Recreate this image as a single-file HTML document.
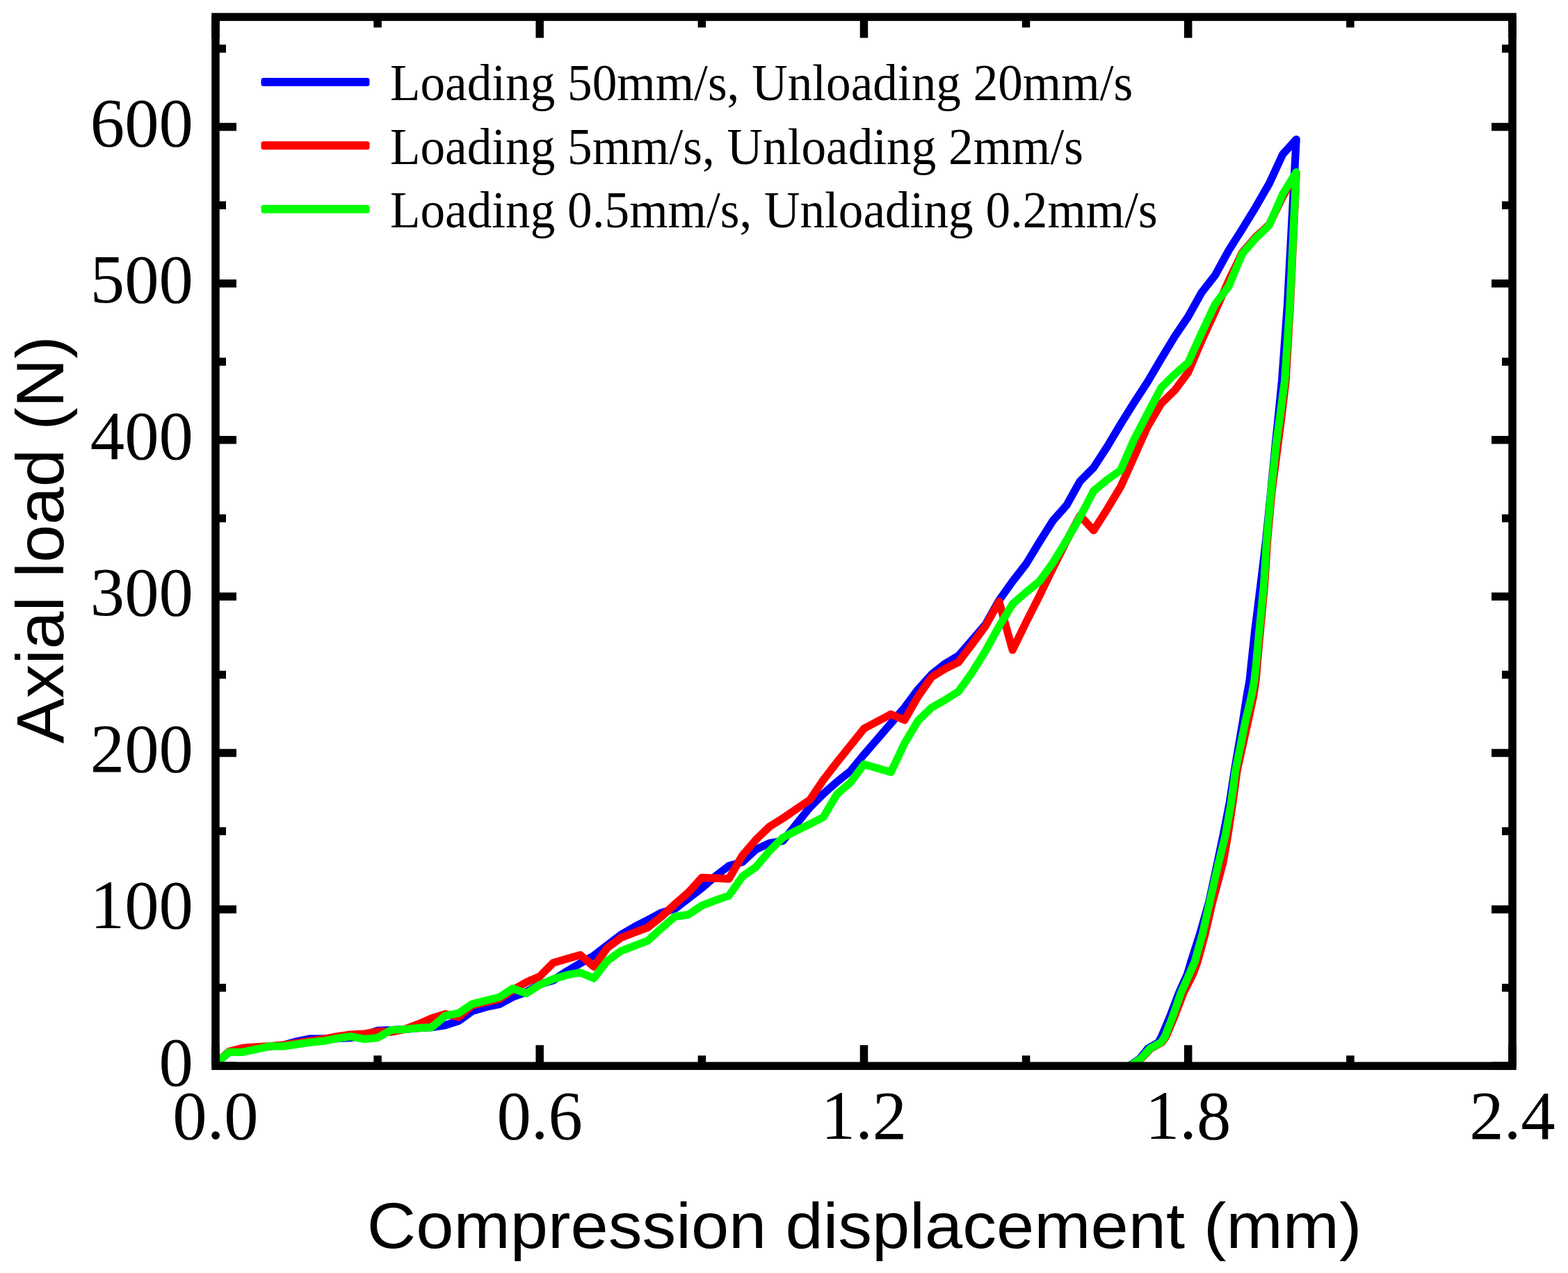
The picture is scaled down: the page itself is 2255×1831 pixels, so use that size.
<!DOCTYPE html>
<html lang="en"><head><meta charset="utf-8"><title>Axial load vs compression displacement</title>
<style>html,body{margin:0;padding:0;background:#fff;}body{width:2255px;height:1831px;overflow:hidden;}svg{display:block;}text{fill:#000;}.ser{font-family:"Liberation Serif","Times New Roman",serif;}.san{font-family:"Liberation Sans",Arial,sans-serif;}</style></head><body>
<svg width="2255" height="1831" viewBox="0 0 2255 1831">
<rect x="0" y="0" width="2255" height="1831" fill="#fff"/>
<defs><clipPath id="pc"><rect x="310.0" y="24.4" width="1865.0" height="1508.8"/></clipPath></defs>
<g clip-path="url(#pc)">
<polyline points="310.0,1530.1 329.4,1513.3 348.9,1512.3 368.3,1508.6 387.7,1504.9 407.1,1503.5 426.6,1498.0 446.0,1494.0 465.4,1494.0 484.8,1493.6 504.3,1492.7 523.7,1489.0 543.1,1482.4 562.6,1481.5 582.0,1480.5 601.4,1478.7 620.8,1477.7 640.3,1474.6 659.7,1468.4 679.1,1454.5 698.5,1448.6 718.0,1444.5 737.4,1434.0 756.8,1426.9 776.2,1415.7 795.7,1410.0 815.1,1397.0 834.5,1385.7 854.0,1374.5 873.4,1359.5 892.8,1344.6 912.2,1333.3 931.7,1323.1 951.1,1312.8 970.5,1307.2 989.9,1292.2 1009.4,1277.2 1028.8,1260.4 1048.2,1245.4 1067.7,1239.8 1087.1,1221.9 1106.5,1212.7 1125.9,1209.5 1145.4,1185.3 1164.8,1161.2 1184.2,1141.8 1203.6,1124.6 1223.1,1109.0 1242.5,1085.3 1261.9,1062.8 1281.3,1040.4 1300.8,1017.9 1320.2,991.7 1339.6,970.2 1359.1,954.7 1378.5,943.1 1397.9,920.7 1417.3,898.2 1436.8,863.4 1456.2,836.3 1475.6,811.3 1495.0,779.4 1514.5,748.4 1533.9,726.7 1553.3,692.1 1572.8,672.5 1592.2,642.6 1611.6,610.2 1631.0,579.0 1650.5,549.1 1669.9,516.1 1689.3,484.2 1708.7,455.5 1728.2,420.6 1747.6,395.7 1767.0,360.2 1786.5,329.6 1805.9,297.8 1825.3,264.1 1844.7,222.0 1864.2,200.5 1851.4,440.0 1843.5,548.0 1838.2,601.0 1834.2,640.0 1827.5,709.0 1820.6,778.0 1813.1,840.0 1804.5,909.0 1799.5,955.0 1797.2,978.0 1793.1,1001.0 1787.0,1040.0 1775.3,1109.0 1768.2,1155.0 1759.2,1201.0 1751.1,1240.0 1738.7,1297.6 1725.5,1343.7 1712.6,1384.0 1707.6,1401.0 1695.5,1428.0 1682.4,1462.7 1670.6,1490.7 1666.0,1499.2 1651.1,1508.0 1639.0,1523.0 1624.0,1533.2" fill="none" stroke="#0000ff" stroke-width="11.2" stroke-linejoin="round" stroke-linecap="round"/>
<polyline points="310.0,1530.1 329.4,1512.3 348.9,1507.3 368.3,1505.8 387.7,1504.9 407.1,1503.0 426.6,1500.2 446.0,1497.4 465.4,1494.6 484.8,1490.8 504.3,1488.0 523.7,1487.1 543.1,1483.7 562.6,1484.3 582.0,1480.5 601.4,1473.1 620.8,1464.6 640.3,1458.5 659.7,1462.8 679.1,1446.0 698.5,1441.5 718.0,1437.0 737.4,1424.0 756.8,1412.8 776.2,1404.4 795.7,1384.8 815.1,1379.2 834.5,1373.6 854.0,1390.4 873.4,1363.3 892.8,1348.9 912.2,1341.4 931.7,1333.9 951.1,1318.7 970.5,1300.6 989.9,1283.8 1009.4,1262.3 1028.8,1263.2 1048.2,1264.1 1067.7,1230.4 1087.1,1207.8 1106.5,1189.1 1125.9,1177.0 1145.4,1163.7 1164.8,1150.4 1184.2,1121.6 1203.6,1096.5 1223.1,1072.2 1242.5,1047.9 1261.9,1037.6 1281.3,1027.3 1300.8,1035.7 1320.2,1002.0 1339.6,974.1 1359.1,962.0 1378.5,952.4 1397.9,926.6 1417.3,900.4 1436.8,865.2 1456.2,935.0 1475.6,895.1 1495.0,856.7 1514.5,816.5 1533.9,777.8 1553.3,741.7 1572.8,762.9 1592.2,732.4 1611.6,700.2 1631.0,656.9 1650.5,613.3 1669.9,580.4 1689.3,561.6 1708.7,535.6 1728.2,489.8 1747.6,447.7 1767.0,403.7 1786.5,363.3 1805.9,340.8 1825.3,323.1 1844.7,282.8 1864.2,249.2 1855.4,440.0 1849.1,548.0 1842.8,601.0 1837.8,640.0 1828.8,709.0 1822.6,778.0 1818.7,840.0 1812.2,909.0 1808.0,955.0 1806.2,978.0 1802.7,1001.0 1794.3,1040.0 1779.0,1109.0 1772.8,1155.0 1765.9,1201.0 1759.1,1240.0 1743.7,1297.6 1733.0,1343.7 1722.0,1384.0 1715.7,1401.0 1702.1,1428.0 1688.8,1462.7 1677.0,1490.7 1671.2,1499.2 1655.0,1508.0 1641.1,1523.0 1625.5,1533.2" fill="none" stroke="#ff0000" stroke-width="11.2" stroke-linejoin="round" stroke-linecap="round"/>
<polyline points="310.0,1530.1 329.4,1513.3 348.9,1513.3 368.3,1509.2 387.7,1504.9 407.1,1504.9 426.6,1502.1 446.0,1499.3 465.4,1497.4 484.8,1493.6 504.3,1490.8 523.7,1494.6 543.1,1492.7 562.6,1481.5 582.0,1480.5 601.4,1478.7 620.8,1477.7 640.3,1460.9 659.7,1457.2 679.1,1444.1 698.5,1439.1 718.0,1434.4 737.4,1421.7 756.8,1428.8 776.2,1416.6 795.7,1408.2 815.1,1402.6 834.5,1398.8 854.0,1407.2 873.4,1382.0 892.8,1368.0 912.2,1360.5 931.7,1353.0 951.1,1335.2 970.5,1318.4 989.9,1315.6 1009.4,1302.5 1028.8,1295.0 1048.2,1288.4 1067.7,1260.7 1087.1,1247.1 1106.5,1224.1 1125.9,1204.7 1145.4,1194.7 1164.8,1185.4 1184.2,1175.1 1203.6,1142.3 1223.1,1125.5 1242.5,1099.3 1261.9,1104.9 1281.3,1110.5 1300.8,1069.4 1320.2,1036.6 1339.6,1017.9 1359.1,1006.8 1378.5,994.6 1397.9,967.4 1417.3,936.2 1436.8,900.8 1456.2,868.8 1475.6,851.9 1495.0,836.1 1514.5,809.0 1533.9,777.2 1553.3,743.5 1572.8,706.1 1592.2,690.2 1611.6,676.2 1631.0,632.0 1650.5,594.6 1669.9,557.8 1689.3,538.4 1708.7,521.6 1728.2,478.6 1747.6,437.4 1767.0,411.9 1786.5,365.2 1805.9,342.7 1825.3,324.0 1844.7,279.1 1864.2,247.7 1854.9,440.0 1847.6,548.0 1840.5,601.0 1835.2,640.0 1827.8,709.0 1821.6,778.0 1817.7,840.0 1810.8,909.0 1806.5,955.0 1804.0,978.0 1799.8,1001.0 1790.5,1040.0 1776.7,1109.0 1770.5,1155.0 1762.4,1201.0 1752.8,1240.0 1739.7,1297.6 1729.3,1343.7 1718.0,1384.0 1710.5,1401.0 1698.4,1428.0 1686.3,1462.7 1675.5,1490.7 1669.9,1499.2 1654.0,1508.0 1640.4,1523.0 1625.0,1533.2" fill="none" stroke="#00ff00" stroke-width="11.2" stroke-linejoin="round" stroke-linecap="round"/>
</g>
<path d="M310.0 1533.2V1503.2M310.0 24.4V54.4M543.1 1533.2V1518.2M543.1 24.4V39.4M776.2 1533.2V1503.2M776.2 24.4V54.4M1009.4 1533.2V1518.2M1009.4 24.4V39.4M1242.5 1533.2V1503.2M1242.5 24.4V54.4M1475.6 1533.2V1518.2M1475.6 24.4V39.4M1708.7 1533.2V1503.2M1708.7 24.4V54.4M1941.9 1533.2V1518.2M1941.9 24.4V39.4M2175.0 1533.2V1503.2M2175.0 24.4V54.4M310.0 1533.2H340.0M2175.0 1533.2H2145.0M310.0 1420.7H325.0M2175.0 1420.7H2160.0M310.0 1308.1H340.0M2175.0 1308.1H2145.0M310.0 1195.6H325.0M2175.0 1195.6H2160.0M310.0 1083.0H340.0M2175.0 1083.0H2145.0M310.0 970.5H325.0M2175.0 970.5H2160.0M310.0 857.9H340.0M2175.0 857.9H2145.0M310.0 745.4H325.0M2175.0 745.4H2160.0M310.0 632.8H340.0M2175.0 632.8H2145.0M310.0 520.3H325.0M2175.0 520.3H2160.0M310.0 407.7H340.0M2175.0 407.7H2145.0M310.0 295.2H325.0M2175.0 295.2H2160.0M310.0 182.6H340.0M2175.0 182.6H2145.0M310.0 70.1H325.0M2175.0 70.1H2160.0" stroke="#000" stroke-width="11.5" fill="none"/>
<rect x="310.0" y="24.4" width="1865.0" height="1508.8" fill="none" stroke="#000" stroke-width="11.5"/>
<text class="ser" transform="translate(278.0 1560.5) scale(0.983 1)" font-size="100.5" text-anchor="end">0</text>
<text class="ser" transform="translate(278.0 1335.4) scale(0.983 1)" font-size="100.5" text-anchor="end">100</text>
<text class="ser" transform="translate(278.0 1110.3) scale(0.983 1)" font-size="100.5" text-anchor="end">200</text>
<text class="ser" transform="translate(278.0 885.2) scale(0.983 1)" font-size="100.5" text-anchor="end">300</text>
<text class="ser" transform="translate(278.0 660.1) scale(0.983 1)" font-size="100.5" text-anchor="end">400</text>
<text class="ser" transform="translate(278.0 435.0) scale(0.983 1)" font-size="100.5" text-anchor="end">500</text>
<text class="ser" transform="translate(278.0 209.9) scale(0.983 1)" font-size="100.5" text-anchor="end">600</text>
<text class="ser" transform="translate(310.0 1637.6) scale(0.983 1)" font-size="100.5" text-anchor="middle">0.0</text>
<text class="ser" transform="translate(776.2 1637.6) scale(0.983 1)" font-size="100.5" text-anchor="middle">0.6</text>
<text class="ser" transform="translate(1242.5 1637.6) scale(0.983 1)" font-size="100.5" text-anchor="middle">1.2</text>
<text class="ser" transform="translate(1708.7 1637.6) scale(0.983 1)" font-size="100.5" text-anchor="middle">1.8</text>
<text class="ser" transform="translate(2175.0 1637.6) scale(0.983 1)" font-size="100.5" text-anchor="middle">2.4</text>
<text class="san" transform="translate(1243.2 1795.0) scale(1.06 1)" font-size="92" text-anchor="middle">Compression displacement (mm)</text>
<text class="san" transform="translate(90.6 776.4) rotate(-90) scale(1.0071 1)" font-size="97" text-anchor="middle">Axial load (N)</text>
<rect x="375.5" y="112.0" width="156.0" height="12.0" rx="3.5" fill="#0000ff"/>
<text class="ser" transform="translate(561.0 144.0) scale(0.9678 1)" font-size="73.6">Loading 50mm/s, Unloading 20mm/s</text>
<rect x="375.5" y="203.3" width="156.0" height="12.0" rx="3.5" fill="#ff0000"/>
<text class="ser" transform="translate(561.0 235.7) scale(0.9678 1)" font-size="73.6">Loading 5mm/s, Unloading 2mm/s</text>
<rect x="375.5" y="294.7" width="156.0" height="12.0" rx="3.5" fill="#00ff00"/>
<text class="ser" transform="translate(561.0 327.3) scale(0.9678 1)" font-size="73.6">Loading 0.5mm/s, Unloading 0.2mm/s</text>
</svg></body></html>
